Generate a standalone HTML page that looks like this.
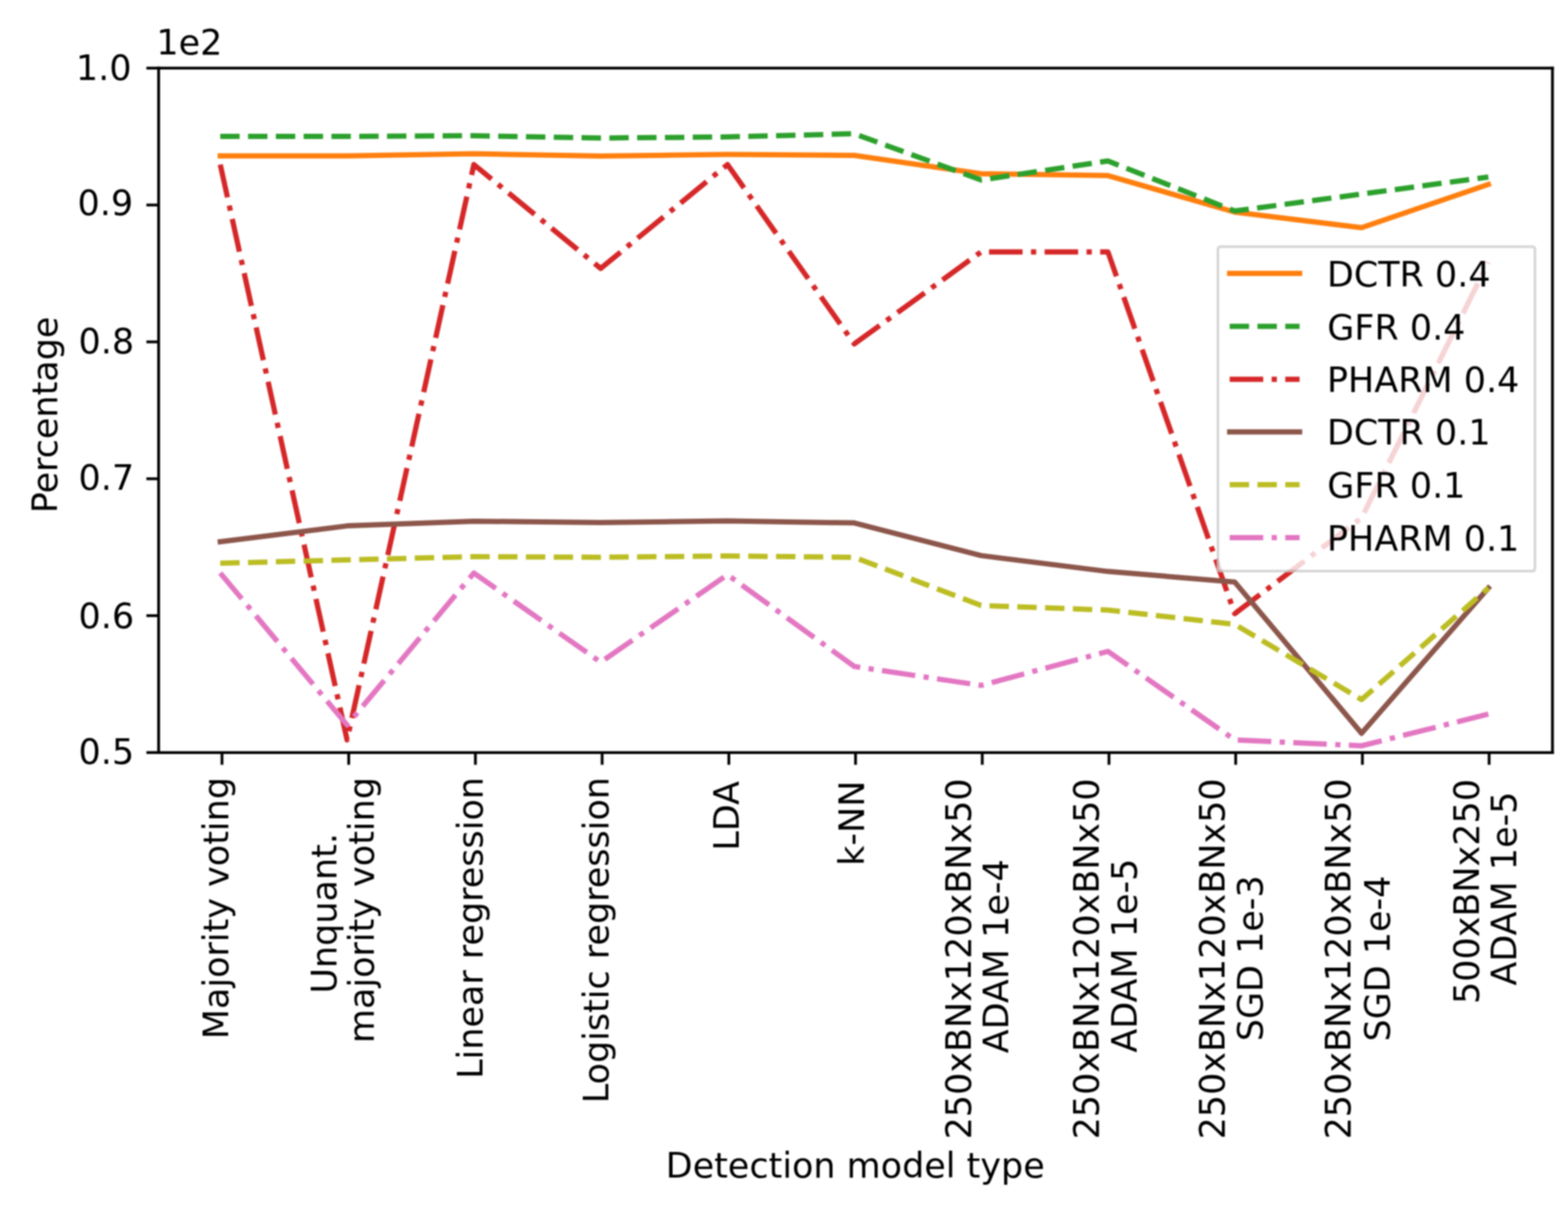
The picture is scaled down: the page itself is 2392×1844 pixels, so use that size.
<!DOCTYPE html>
<html><head><meta charset="utf-8"><title>Detection model type chart</title>
<style>html,body{margin:0;padding:0;background:#fff;}body{width:2392px;height:1844px;overflow:hidden;}svg{display:block;}svg{filter:blur(1px);}</style>
</head><body>
<svg width="2392" height="1844" viewBox="0 0 448.5 345.75" version="1.1">
 <defs>
  <style type="text/css">*{stroke-linejoin: round; stroke-linecap: butt}</style>
 </defs>
 <g id="figure_1">
  <g id="patch_1">
   <path d="M 0 345.75 L 448.5 345.75 L 448.5 0 L 0 0 z
" style="fill: #ffffff"/>
  </g>
  <g id="axes_1">
   <g id="patch_2">
    <path d="M 45.375 215.2125 L 444.05625 215.2125 L 444.05625 19.48125 L 45.375 19.48125 z
" style="fill: #ffffff"/>
   </g>
   <g id="matplotlib.axis_1">
    <g id="xtick_1">
     <g id="line2d_1">
            <g>
       <path d="M 0 0 L 0 3.5 " transform="translate(63.496875 215.2125)" style="stroke: #000000; stroke-width: 0.8"/>
      </g>
     </g>
     <g id="text_1">
      <text style="font-size: 10px; font-family: 'DejaVu Sans', sans-serif" transform="translate(-0.9375 0.0000) translate(66.25625 297.19375) rotate(-90)">Majority voting</text>
     </g>
    </g>
    <g id="xtick_2">
     <g id="line2d_2">
      <g>
       <path d="M 0 0 L 0 3.5 " transform="translate(99.740625 215.2125)" style="stroke: #000000; stroke-width: 0.8"/>
      </g>
     </g>
     <g id="text_2">
      <text style="font-size: 10px; font-family: 'DejaVu Sans', sans-serif" transform="translate(-0.6562 0.9375) translate(96.901094 283.2125) rotate(-90)">Unquant.</text>
      <text style="font-size: 10px; font-family: 'DejaVu Sans', sans-serif" transform="translate(-1.3125 0.0000) translate(108.098906 298.30625) rotate(-90)">majority voting</text>
     </g>
    </g>
    <g id="xtick_3">
     <g id="line2d_3">
      <g>
       <path d="M 0 0 L 0 3.5 " transform="translate(135.984375 215.2125)" style="stroke: #000000; stroke-width: 0.8"/>
      </g>
     </g>
     <g id="text_3">
      <text style="font-size: 10px; font-family: 'DejaVu Sans', sans-serif" transform="translate(-0.7500 0.0000) translate(138.74375 308.55) rotate(-90)">Linear regression</text>
     </g>
    </g>
    <g id="xtick_4">
     <g id="line2d_4">
      <g>
       <path d="M 0 0 L 0 3.5 " transform="translate(172.228125 215.2125)" style="stroke: #000000; stroke-width: 0.8"/>
      </g>
     </g>
     <g id="text_4">
      <text style="font-size: 10px; font-family: 'DejaVu Sans', sans-serif" transform="translate(-0.9375 0.0000) translate(174.9875 315.51875) rotate(-90)">Logistic regression</text>
     </g>
    </g>
    <g id="xtick_5">
     <g id="line2d_5">
      <g>
       <path d="M 0 0 L 0 3.5 " transform="translate(208.471875 215.2125)" style="stroke: #000000; stroke-width: 0.8"/>
      </g>
     </g>
     <g id="text_5">
      <text style="font-size: 10px; font-family: 'DejaVu Sans', sans-serif" transform="translate(0.0000 1.1250) translate(211.23125 242.15) rotate(-90)">LDA</text>
     </g>
    </g>
    <g id="xtick_6">
     <g id="line2d_6">
      <g>
       <path d="M 0 0 L 0 3.5 " transform="translate(244.715625 215.2125)" style="stroke: #000000; stroke-width: 0.8"/>
      </g>
     </g>
     <g id="text_6">
      <text style="font-size: 10px; font-family: 'DejaVu Sans', sans-serif" transform="translate(-0.2812 1.0312) translate(247.475 246.573438) rotate(-90)">k-NN</text>
     </g>
    </g>
    <g id="xtick_7">
     <g id="line2d_7">
      <g>
       <path d="M 0 0 L 0 3.5 " transform="translate(280.959375 215.2125)" style="stroke: #000000; stroke-width: 0.8"/>
      </g>
     </g>
     <g id="text_7">
      <text style="font-size: 10px; font-family: 'DejaVu Sans', sans-serif" transform="translate(-0.3750 0.3750) translate(278.119844 325.471875) rotate(-90)">250xBNx120xBNx50</text>
      <text style="font-size: 10px; font-family: 'DejaVu Sans', sans-serif" transform="translate(-0.9375 -0.3750) translate(289.317656 301.591406) rotate(-90)">ADAM 1e-4</text>
     </g>
    </g>
    <g id="xtick_8">
     <g id="line2d_8">
      <g>
       <path d="M 0 0 L 0 3.5 " transform="translate(317.203125 215.2125)" style="stroke: #000000; stroke-width: 0.8"/>
      </g>
     </g>
     <g id="text_8">
      <text style="font-size: 10px; font-family: 'DejaVu Sans', sans-serif" transform="translate(-0.1875 0.3750) translate(314.363594 325.471875) rotate(-90)">250xBNx120xBNx50</text>
      <text style="font-size: 10px; font-family: 'DejaVu Sans', sans-serif" transform="translate(-0.4688 -0.5625) translate(325.561406 301.591406) rotate(-90)">ADAM 1e-5</text>
     </g>
    </g>
    <g id="xtick_9">
     <g id="line2d_9">
      <g>
       <path d="M 0 0 L 0 3.5 " transform="translate(353.446875 215.2125)" style="stroke: #000000; stroke-width: 0.8"/>
      </g>
     </g>
     <g id="text_9">
      <text style="font-size: 10px; font-family: 'DejaVu Sans', sans-serif" transform="translate(-0.3750 0.3750) translate(350.607344 325.471875) rotate(-90)">250xBNx120xBNx50</text>
      <text style="font-size: 10px; font-family: 'DejaVu Sans', sans-serif" transform="translate(-0.7500 0.1875) translate(361.805156 297.572656) rotate(-90)">SGD 1e-3</text>
     </g>
    </g>
    <g id="xtick_10">
     <g id="line2d_10">
      <g>
       <path d="M 0 0 L 0 3.5 " transform="translate(389.690625 215.2125)" style="stroke: #000000; stroke-width: 0.8"/>
      </g>
     </g>
     <g id="text_10">
      <text style="font-size: 10px; font-family: 'DejaVu Sans', sans-serif" transform="translate(-0.6562 0.3750) translate(386.851094 325.471875) rotate(-90)">250xBNx120xBNx50</text>
      <text style="font-size: 10px; font-family: 'DejaVu Sans', sans-serif" transform="translate(-0.4688 0.2812) translate(398.048906 297.572656) rotate(-90)">SGD 1e-4</text>
     </g>
    </g>
    <g id="xtick_11">
     <g id="line2d_11">
      <g>
       <path d="M 0 0 L 0 3.5 " transform="translate(425.934375 215.2125)" style="stroke: #000000; stroke-width: 0.8"/>
      </g>
     </g>
     <g id="text_11">
      <text style="font-size: 10px; font-family: 'DejaVu Sans', sans-serif" transform="translate(-0.1875 0.5625) translate(423.094844 286.567187) rotate(-90)">500xBNx250</text>
      <text style="font-size: 10px; font-family: 'DejaVu Sans', sans-serif" transform="translate(-0.5625 -0.2812) translate(434.292656 282.139063) rotate(-90)">ADAM 1e-5</text>
     </g>
    </g>
    <g id="text_12">
     <text style="font-size: 10px; font-family: 'DejaVu Sans', sans-serif; text-anchor: middle" x="244.715625" y="337.070312" transform="translate(-0.0938 -0.2812) rotate(-0 244.715625 337.070312)">Detection model type</text>
    </g>
   </g>
   <g id="matplotlib.axis_2">
    <g id="ytick_1">
     <g id="line2d_12">
            <g>
       <path d="M 0 0 L -3.5 0 " transform="translate(45.375 215.2125)" style="stroke: #000000; stroke-width: 0.8"/>
      </g>
     </g>
     <g id="text_13">
      <text style="font-size: 10px; font-family: 'DejaVu Sans', sans-serif; text-anchor: end" x="38.375" y="219.011719" transform="translate(0.0000 -0.5625) rotate(-0 38.375 219.011719)">0.5</text>
     </g>
    </g>
    <g id="ytick_2">
     <g id="line2d_13">
      <g>
       <path d="M 0 0 L -3.5 0 " transform="translate(45.375 176.06625)" style="stroke: #000000; stroke-width: 0.8"/>
      </g>
     </g>
     <g id="text_14">
      <text style="font-size: 10px; font-family: 'DejaVu Sans', sans-serif; text-anchor: end" x="38.375" y="179.865469" transform="translate(0.0000 -0.2812) rotate(-0 38.375 179.865469)">0.6</text>
     </g>
    </g>
    <g id="ytick_3">
     <g id="line2d_14">
      <g>
       <path d="M 0 0 L -3.5 0 " transform="translate(45.375 136.92)" style="stroke: #000000; stroke-width: 0.8"/>
      </g>
     </g>
     <g id="text_15">
      <text style="font-size: 10px; font-family: 'DejaVu Sans', sans-serif; text-anchor: end" x="38.375" y="140.719219" transform="translate(0.0000 -0.7500) rotate(-0 38.375 140.719219)">0.7</text>
     </g>
    </g>
    <g id="ytick_4">
     <g id="line2d_15">
      <g>
       <path d="M 0 0 L -3.5 0 " transform="translate(45.375 97.77375)" style="stroke: #000000; stroke-width: 0.8"/>
      </g>
     </g>
     <g id="text_16">
      <text style="font-size: 10px; font-family: 'DejaVu Sans', sans-serif; text-anchor: end" x="38.375" y="101.572969" transform="translate(0.0000 -0.4688) rotate(-0 38.375 101.572969)">0.8</text>
     </g>
    </g>
    <g id="ytick_5">
     <g id="line2d_16">
      <g>
       <path d="M 0 0 L -3.5 0 " transform="translate(45.375 58.6275)" style="stroke: #000000; stroke-width: 0.8"/>
      </g>
     </g>
     <g id="text_17">
      <text style="font-size: 10px; font-family: 'DejaVu Sans', sans-serif; text-anchor: end" x="38.375" y="62.426719" transform="translate(-0.2812 -0.8438) rotate(-0 38.375 62.426719)">0.9</text>
     </g>
    </g>
    <g id="ytick_6">
     <g id="line2d_17">
      <g>
       <path d="M 0 0 L -3.5 0 " transform="translate(45.375 19.48125)" style="stroke: #000000; stroke-width: 0.8"/>
      </g>
     </g>
     <g id="text_18">
      <text style="font-size: 10px; font-family: 'DejaVu Sans', sans-serif; text-anchor: end" x="38.375" y="23.280469" transform="translate(-0.7500 -0.4688) rotate(-0 38.375 23.280469)">1.0</text>
     </g>
    </g>
    <g id="text_19">
     <text style="font-size: 10px; font-family: 'DejaVu Sans', sans-serif; text-anchor: middle" x="16.392187" y="117.346875" transform="translate(0.0000 1.3125) rotate(-90 16.392187 117.346875)">Percentage</text>
    </g>
    <g id="text_20">
     <text style="font-size: 10px; font-family: 'DejaVu Sans', sans-serif; text-anchor: start" x="45.375" y="16.48125" transform="translate(-0.6562 -0.8438) rotate(-0 45.375 16.48125)">1e2</text>
    </g>
   </g>
   <g id="line2d_18">
    <path d="M 63 44.5875 L 99.271875 44.56875 L 135.54375 43.96875 L 171.815625 44.625 L 208.0875 44.15625 L 244.359375 44.4375 L 280.63125 49.6875 L 316.903125 50.2125 L 353.175 60.65625 L 389.446875 65.11875 L 425.71875 52.74375 " clip-path="url(#p9f373eebc6)" style="fill: none; stroke: #ff7f0e; stroke-width: 1.5; stroke-linecap: square"/>
   </g>
   <g id="line2d_19">
    <path d="M 63 39 L 99.271875 39 L 135.54375 38.8125 L 171.815625 39.46875 L 208.0875 39.15 L 244.359375 38.25 L 280.63125 51.46875 L 316.903125 46.03125 L 353.175 60.3375 L 389.446875 55.5 L 425.71875 50.625 " clip-path="url(#p9f373eebc6)" style="fill: none; stroke-dasharray: 5.55,2.4; stroke-dashoffset: 0; stroke: #2ca02c; stroke-width: 1.5"/>
   </g>
   <g id="line2d_20">
    <path d="M 63 47.0625 L 99.271875 211.59375 L 135.54375 47.0625 L 171.815625 76.7625 L 208.0875 47.0625 L 244.359375 98.34375 L 280.63125 72.0375 L 316.903125 72.0375 L 353.175 175.5 L 389.446875 148.125 L 425.71875 75 " clip-path="url(#p9f373eebc6)" style="fill: none; stroke-dasharray: 9.6,2.4,1.5,2.4; stroke-dashoffset: 0; stroke: #d62728; stroke-width: 1.5"/>
   </g>
   <g id="line2d_21">
    <path d="M 63 154.93125 L 99.271875 150.39375 L 135.54375 149.0625 L 171.815625 149.4375 L 208.0875 148.96875 L 244.359375 149.55 L 280.63125 158.8875 L 316.903125 163.425 L 353.175 166.44375 L 389.446875 209.7 L 425.71875 168.15 " clip-path="url(#p9f373eebc6)" style="fill: none; stroke: #8c564b; stroke-width: 1.5; stroke-linecap: square"/>
   </g>
   <g id="line2d_22">
    <path d="M 63 161.0625 L 99.271875 160.125 L 135.54375 159.1875 L 171.815625 159.375 L 208.0875 159 L 244.359375 159.375 L 280.63125 173.15625 L 316.903125 174.46875 L 353.175 178.5375 L 389.446875 200.0625 L 425.71875 168.15 " clip-path="url(#p9f373eebc6)" style="fill: none; stroke-dasharray: 5.55,2.4; stroke-dashoffset: 0; stroke: #bcbd22; stroke-width: 1.5"/>
   </g>
   <g id="line2d_23">
    <path d="M 63 163.875 L 99.271875 207.3375 L 135.54375 163.875 L 171.815625 189.375 L 208.0875 164.3625 L 244.359375 190.59375 L 280.63125 196.0125 L 316.903125 186.28125 L 353.175 211.59375 L 389.446875 213.28125 L 425.71875 204.225 " clip-path="url(#p9f373eebc6)" style="fill: none; stroke-dasharray: 9.6,2.4,1.5,2.4; stroke-dashoffset: 0; stroke: #e377c2; stroke-width: 1.5"/>
   </g>
   <g id="patch_3">
    <path d="M 45.375 215.2125 L 45.375 19.48125 " style="fill: none; stroke: #000000; stroke-width: 0.8; stroke-linejoin: miter; stroke-linecap: square"/>
   </g>
   <g id="patch_4">
    <path d="M 444.05625 215.2125 L 444.05625 19.48125 " style="fill: none; stroke: #000000; stroke-width: 0.8; stroke-linejoin: miter; stroke-linecap: square"/>
   </g>
   <g id="patch_5">
    <path d="M 45.375 215.2125 L 444.05625 215.2125 " style="fill: none; stroke: #000000; stroke-width: 0.8; stroke-linejoin: miter; stroke-linecap: square"/>
   </g>
   <g id="patch_6">
    <path d="M 45.375 19.48125 L 444.05625 19.48125 " style="fill: none; stroke: #000000; stroke-width: 0.8; stroke-linejoin: miter; stroke-linecap: square"/>
   </g>
   <g id="legend_1">
    <g id="patch_7">
     <path d="M 349.1750 163.3125 L 438.2500 163.3125 Q 439.0500 163.3125 439.0500 162.5125 L 439.0500 71.3375 Q 439.0500 70.5375 438.2500 70.5375 L 349.1750 70.5375 Q 348.3750 70.5375 348.3750 71.3375 L 348.3750 162.5125 Q 348.3750 163.3125 349.1750 163.3125 z" style="fill: #ffffff; opacity: 0.8; stroke: #cccccc; stroke-linejoin: miter; stroke-width: 0.75"/>
    </g>
    <g id="line2d_24" transform="translate(-0.2812 -1.7438)">
     <path d="M 352.007812 79.910938 L 362.007812 79.910938 L 372.007812 79.910938 " style="fill: none; stroke: #ff7f0e; stroke-width: 1.5; stroke-linecap: square"/>
    </g>
    <g id="text_21">
     <text style="font-size: 10px; font-family: 'DejaVu Sans', sans-serif; text-anchor: start" x="380.007812" y="83.410938" transform="translate(-0.4688 -1.5281) rotate(-0 380.007812 83.410938)">DCTR 0.4</text>
    </g>
    <g id="line2d_25" transform="translate(-0.2812 -1.2675)">
     <path d="M 352.007812 94.589063 L 362.007812 94.589063 L 372.007812 94.589063 " style="fill: none; stroke-dasharray: 5.55,2.4; stroke-dashoffset: 0; stroke: #2ca02c; stroke-width: 1.5"/>
    </g>
    <g id="text_22">
     <text style="font-size: 10px; font-family: 'DejaVu Sans', sans-serif; text-anchor: start" x="380.007812" y="98.089063" transform="translate(-0.3750 -1.0519) rotate(-0 380.007812 98.089063)">GFR 0.4</text>
    </g>
    <g id="line2d_26" transform="translate(-0.2812 -0.7913)">
     <path d="M 352.007812 109.267188 L 362.007812 109.267188 L 372.007812 109.267188 " style="fill: none; stroke-dasharray: 9.6,2.4,1.5,2.4; stroke-dashoffset: 0; stroke: #d62728; stroke-width: 1.5"/>
    </g>
    <g id="text_23">
     <text style="font-size: 10px; font-family: 'DejaVu Sans', sans-serif; text-anchor: start" x="380.007812" y="112.767188" transform="translate(-0.4688 -0.5756) rotate(-0 380.007812 112.767188)">PHARM 0.4</text>
    </g>
    <g id="line2d_27" transform="translate(-0.2812 -0.4088)">
     <path d="M 352.007812 123.945313 L 362.007812 123.945313 L 372.007812 123.945313 " style="fill: none; stroke: #8c564b; stroke-width: 1.5; stroke-linecap: square"/>
    </g>
    <g id="text_24">
     <text style="font-size: 10px; font-family: 'DejaVu Sans', sans-serif; text-anchor: start" x="380.007812" y="127.445313" transform="translate(-0.4688 -0.2869) rotate(-0 380.007812 127.445313)">DCTR 0.1</text>
    </g>
    <g id="line2d_28" transform="translate(-0.2812 -0.0263)">
     <path d="M 352.007812 138.623438 L 362.007812 138.623438 L 372.007812 138.623438 " style="fill: none; stroke-dasharray: 5.55,2.4; stroke-dashoffset: 0; stroke: #bcbd22; stroke-width: 1.5"/>
    </g>
    <g id="text_25">
     <text style="font-size: 10px; font-family: 'DejaVu Sans', sans-serif; text-anchor: start" x="380.007812" y="142.123438" transform="translate(-0.3750 0.1894) rotate(-0 380.007812 142.123438)">GFR 0.1</text>
    </g>
    <g id="line2d_29" transform="translate(-0.2812 0.4500)">
     <path d="M 352.007812 153.301563 L 362.007812 153.301563 L 372.007812 153.301563 " style="fill: none; stroke-dasharray: 9.6,2.4,1.5,2.4; stroke-dashoffset: 0; stroke: #e377c2; stroke-width: 1.5"/>
    </g>
    <g id="text_26">
     <text style="font-size: 10px; font-family: 'DejaVu Sans', sans-serif; text-anchor: start" x="380.007812" y="156.801563" transform="translate(-0.4688 0.6656) rotate(-0 380.007812 156.801563)">PHARM 0.1</text>
    </g>
   </g>
  </g>
 </g>
 <defs>
  <clipPath id="p9f373eebc6">
   <rect x="45.375" y="19.48125" width="398.68125" height="195.73125"/>
  </clipPath>
 </defs>
</svg>

</body></html>
